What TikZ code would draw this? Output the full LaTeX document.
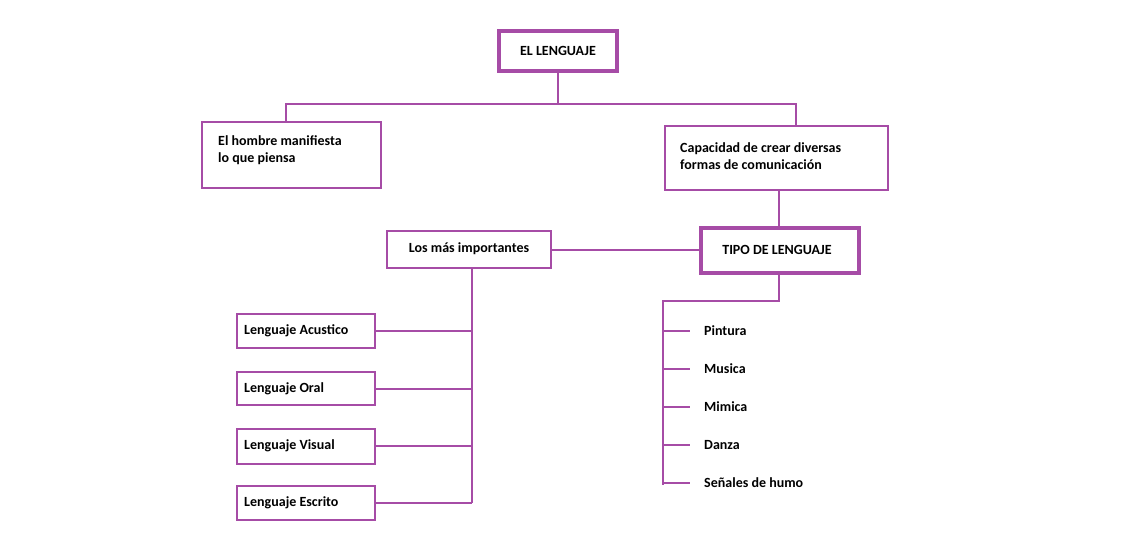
\documentclass[tikz,border=0pt]{standalone}
\usepackage{fontspec}
\setmainfont{Carlito}
\definecolor{pur}{HTML}{A64CA6}
\begin{document}
\begin{tikzpicture}[x=1pt,y=-1pt,
  every node/.style={font=\fontsize{14}{17}\selectfont\bfseries, inner sep=0},
  box/.style={draw=pur, line width=2.5pt, fill=white, align=left, text width=#1},
  box/.default=0,
  bigbox/.style={draw=pur, line width=4pt},
  ln/.style={draw=pur, line width=2.5pt}]
\useasboundingbox[fill=white] (0,0) rectangle (1143,547);
% boxes as rectangles with named nodes
\draw[bigbox] (499,31) rectangle (617,71); \node (el) at (558,51) {EL LENGUAJE};
\coordinate (elb) at (558,71);
\draw[ln] (202,122) rectangle (381,188);
\node[align=left, anchor=north west] (hom) at (218,135) {El hombre manifiesta\\lo que piensa};
\draw[ln] (665,126) rectangle (888,190);
\node[align=left, anchor=north west] (cap) at (680,142) {Capacidad de crear diversas\\formas de comunicación};
\draw[bigbox] (701,228) rectangle (859,273); \node (tipo) at (777,250) {TIPO DE LENGUAJE};
\draw[ln] (387,231) rectangle (551,268); \node (mas) at (469,249) {Los más importantes};
\draw[ln] (237,314) rectangle (375,348); \node[anchor=west] (a) at (244,331) {Lenguaje Acustico};
\draw[ln] (237,372) rectangle (375,405); \node[anchor=west] (o) at (244,389) {Lenguaje Oral};
\draw[ln] (237,429) rectangle (375,464); \node[anchor=west] (v) at (244,446) {Lenguaje Visual};
\draw[ln] (237,486) rectangle (375,520); \node[anchor=west] (e) at (244,503) {Lenguaje Escrito};
\foreach \t/\y in {Pintura/331, Musica/369, Mimica/407, Danza/445, Señales de humo/483}
  \node[anchor=west] at (704,\y) {\t};
% connectors
\draw[ln] (558,71) -- (558,104);
\draw[ln] (286,122) -- (286,104) -- (796,104) -- (796,126);
\draw[ln] (779,190) -- (779,228);
\draw[ln] (551,250) -- (701,250);
\draw[ln] (472,268) -- (472,503);
\foreach \y in {331,389,446,503} \draw[ln] (375,\y) -- (472,\y);
\draw[ln] (779,273) -- (779,301) -- (663,301) -- (663,485);
\foreach \y in {331,369,407,445,483} \draw[ln] (663,\y) -- (690,\y);
\end{tikzpicture}
\end{document}
